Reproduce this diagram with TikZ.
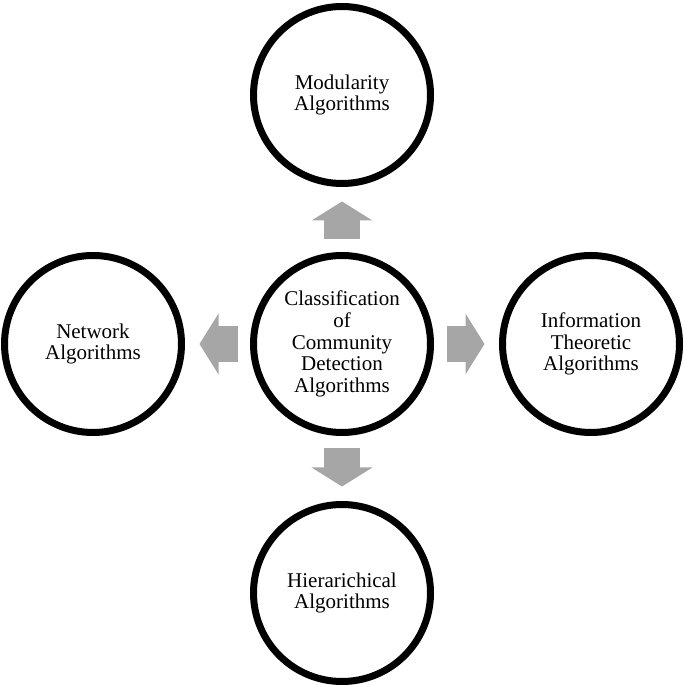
\documentclass[tikz,border=0pt]{standalone}
\usepackage{fontspec}
\setmainfont{Liberation Serif}
\usetikzlibrary{positioning,arrows.meta}
\definecolor{arrowgray}{HTML}{A6A6A6}
\tikzset{
  algo/.style={circle, draw, line width=7pt, minimum size=177pt, outer sep=0pt,
    align=center, font=\fontsize{21}{21.7}\selectfont},
  blockarrow/.style={draw=arrowgray, line width=36pt,
    -{Triangle[width=60pt,length=19pt]}, shorten <=16pt, shorten >=18pt}
}
\begin{document}
\begin{tikzpicture}[x=1pt,y=1pt, node distance=72pt]
  \useasboundingbox (0,0) rectangle (685,685);
  \node[algo] (ctr) at (342,341) {Classification\\of\\Community\\Detection\\Algorithms};
  \node[algo, above=of ctr] (modul) {Modularity\\Algorithms};
  \node[algo, below=of ctr] (hier) {Hierarichical\\Algorithms};
  \node[algo, left=of ctr] (netw) {Network\\Algorithms};
  \node[algo, right=of ctr] (info) {Information\\Theoretic\\Algorithms};
  \draw[blockarrow] (ctr) -- (modul);
  \draw[blockarrow] (ctr) -- (hier);
  \draw[blockarrow] (ctr) -- (netw);
  \draw[blockarrow] (ctr) -- (info);
\end{tikzpicture}
\end{document}
